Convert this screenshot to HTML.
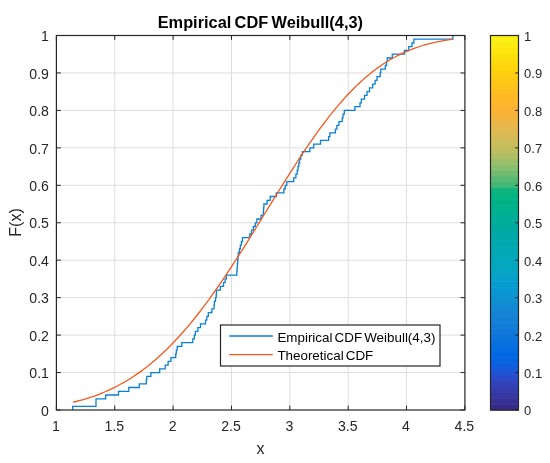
<!DOCTYPE html>
<html><head><meta charset="utf-8"><title>Empirical CDF Weibull(4,3)</title>
<style>
html,body{margin:0;padding:0;background:#fff;}
body{width:550px;height:463px;overflow:hidden;}
svg{display:block;font-family:"Liberation Sans",sans-serif;}
.tk{font-size:14.1px;fill:#262626;}
.lb{font-size:16.1px;fill:#262626;}
.tt{font-size:16.35px;font-weight:bold;fill:#000;word-spacing:-1.2px;}
.cbl{font-size:13px;}
.lg{font-size:13.4px;fill:#000;word-spacing:-1.6px;}
</style></head>
<body>
<svg width="550" height="463" viewBox="0 0 550 463">
<rect x="0" y="0" width="550" height="463" fill="#ffffff"/>
<g stroke="#dedede" stroke-width="1" fill="none">
<line x1="114.76" y1="410.0" x2="114.76" y2="35.5"/>
<line x1="173.11" y1="410.0" x2="173.11" y2="35.5"/>
<line x1="231.47" y1="410.0" x2="231.47" y2="35.5"/>
<line x1="289.83" y1="410.0" x2="289.83" y2="35.5"/>
<line x1="348.19" y1="410.0" x2="348.19" y2="35.5"/>
<line x1="406.54" y1="410.0" x2="406.54" y2="35.5"/>
<line x1="56.4" y1="372.55" x2="464.9" y2="372.55"/>
<line x1="56.4" y1="335.10" x2="464.9" y2="335.10"/>
<line x1="56.4" y1="297.65" x2="464.9" y2="297.65"/>
<line x1="56.4" y1="260.20" x2="464.9" y2="260.20"/>
<line x1="56.4" y1="222.75" x2="464.9" y2="222.75"/>
<line x1="56.4" y1="185.30" x2="464.9" y2="185.30"/>
<line x1="56.4" y1="147.85" x2="464.9" y2="147.85"/>
<line x1="56.4" y1="110.40" x2="464.9" y2="110.40"/>
<line x1="56.4" y1="72.95" x2="464.9" y2="72.95"/>
</g>
<g stroke="#262626" stroke-width="1" fill="none">
<line x1="56.40" y1="410.0" x2="56.40" y2="405.6"/>
<line x1="56.40" y1="35.5" x2="56.40" y2="39.9"/>
<line x1="114.76" y1="410.0" x2="114.76" y2="405.6"/>
<line x1="114.76" y1="35.5" x2="114.76" y2="39.9"/>
<line x1="173.11" y1="410.0" x2="173.11" y2="405.6"/>
<line x1="173.11" y1="35.5" x2="173.11" y2="39.9"/>
<line x1="231.47" y1="410.0" x2="231.47" y2="405.6"/>
<line x1="231.47" y1="35.5" x2="231.47" y2="39.9"/>
<line x1="289.83" y1="410.0" x2="289.83" y2="405.6"/>
<line x1="289.83" y1="35.5" x2="289.83" y2="39.9"/>
<line x1="348.19" y1="410.0" x2="348.19" y2="405.6"/>
<line x1="348.19" y1="35.5" x2="348.19" y2="39.9"/>
<line x1="406.54" y1="410.0" x2="406.54" y2="405.6"/>
<line x1="406.54" y1="35.5" x2="406.54" y2="39.9"/>
<line x1="464.90" y1="410.0" x2="464.90" y2="405.6"/>
<line x1="464.90" y1="35.5" x2="464.90" y2="39.9"/>
<line x1="56.4" y1="410.00" x2="60.8" y2="410.00"/>
<line x1="464.9" y1="410.00" x2="460.5" y2="410.00"/>
<line x1="56.4" y1="372.55" x2="60.8" y2="372.55"/>
<line x1="464.9" y1="372.55" x2="460.5" y2="372.55"/>
<line x1="56.4" y1="335.10" x2="60.8" y2="335.10"/>
<line x1="464.9" y1="335.10" x2="460.5" y2="335.10"/>
<line x1="56.4" y1="297.65" x2="60.8" y2="297.65"/>
<line x1="464.9" y1="297.65" x2="460.5" y2="297.65"/>
<line x1="56.4" y1="260.20" x2="60.8" y2="260.20"/>
<line x1="464.9" y1="260.20" x2="460.5" y2="260.20"/>
<line x1="56.4" y1="222.75" x2="60.8" y2="222.75"/>
<line x1="464.9" y1="222.75" x2="460.5" y2="222.75"/>
<line x1="56.4" y1="185.30" x2="60.8" y2="185.30"/>
<line x1="464.9" y1="185.30" x2="460.5" y2="185.30"/>
<line x1="56.4" y1="147.85" x2="60.8" y2="147.85"/>
<line x1="464.9" y1="147.85" x2="460.5" y2="147.85"/>
<line x1="56.4" y1="110.40" x2="60.8" y2="110.40"/>
<line x1="464.9" y1="110.40" x2="460.5" y2="110.40"/>
<line x1="56.4" y1="72.95" x2="60.8" y2="72.95"/>
<line x1="464.9" y1="72.95" x2="460.5" y2="72.95"/>
<line x1="56.4" y1="35.50" x2="60.8" y2="35.50"/>
<line x1="464.9" y1="35.50" x2="460.5" y2="35.50"/>
</g>
<polyline points="72.7,410.0 72.7,410.0 72.7,406.3 96.0,406.3 96.0,402.5 96.0,402.5 96.0,398.8 105.7,398.8 105.7,395.0 118.5,395.0 118.5,391.3 128.8,391.3 128.8,387.5 139.3,387.5 139.3,383.8 146.3,383.8 146.3,380.0 146.8,380.0 146.8,376.3 150.9,376.3 150.9,372.6 159.7,372.6 159.7,368.8 165.2,368.8 165.2,365.1 168.1,365.1 168.1,361.3 170.9,361.3 170.9,357.6 175.7,357.6 175.7,353.8 176.3,353.8 176.3,350.1 177.2,350.1 177.2,346.3 181.8,346.3 181.8,342.6 192.8,342.6 192.8,338.8 194.3,338.8 194.3,335.1 195.4,335.1 195.4,331.4 197.9,331.4 197.9,327.6 200.5,327.6 200.5,323.9 205.5,323.9 205.5,320.1 206.8,320.1 206.8,316.4 208.3,316.4 208.3,312.6 211.9,312.6 211.9,308.9 214.0,308.9 214.0,305.1 214.4,305.1 214.4,301.4 215.5,301.4 215.5,297.6 216.2,297.6 216.2,293.9 216.5,293.9 216.5,290.2 220.3,290.2 220.3,286.4 223.5,286.4 223.5,282.7 225.1,282.7 225.1,278.9 226.4,278.9 226.4,275.2 236.8,275.2 236.8,271.4 237.1,271.4 237.1,267.7 237.4,267.7 237.4,263.9 237.7,263.9 237.7,260.2 238.0,260.2 238.0,256.5 238.3,256.5 238.3,252.7 239.4,252.7 239.4,249.0 240.3,249.0 240.3,245.2 241.4,245.2 241.4,241.5 242.5,241.5 242.5,237.7 249.8,237.7 249.8,234.0 251.5,234.0 251.5,230.2 253.4,230.2 253.4,226.5 255.3,226.5 255.3,222.8 256.9,222.8 256.9,219.0 261.0,219.0 261.0,215.3 263.3,215.3 263.3,211.5 263.6,211.5 263.6,207.8 263.9,207.8 263.9,204.0 267.1,204.0 267.1,200.3 270.2,200.3 270.2,196.5 276.3,196.5 276.3,192.8 283.9,192.8 283.9,189.0 285.2,189.0 285.2,185.3 286.8,185.3 286.8,181.6 293.7,181.6 293.7,177.8 295.9,177.8 295.9,174.1 297.2,174.1 297.2,170.3 298.0,170.3 298.0,166.6 298.8,166.6 298.8,162.8 299.6,162.8 299.6,159.1 300.8,159.1 300.8,155.3 302.3,155.3 302.3,151.6 309.9,151.6 309.9,147.9 313.7,147.9 313.7,144.1 320.5,144.1 320.5,140.4 328.6,140.4 328.6,136.6 329.9,136.6 329.9,132.9 335.4,132.9 335.4,129.1 336.9,129.1 336.9,125.4 339.0,125.4 339.0,121.6 342.2,121.6 342.2,117.9 343.0,117.9 343.0,114.1 344.3,114.1 344.3,110.4 354.9,110.4 354.9,106.7 360.0,106.7 360.0,102.9 361.3,102.9 361.3,99.2 364.5,99.2 364.5,95.4 367.0,95.4 367.0,91.7 369.5,91.7 369.5,87.9 372.7,87.9 372.7,84.2 375.1,84.2 375.1,80.4 377.0,80.4 377.0,76.7 380.2,76.7 380.2,72.9 380.8,72.9 380.8,69.2 385.3,69.2 385.3,65.5 386.5,65.5 386.5,61.7 387.2,61.7 387.2,58.0 392.3,58.0 392.3,54.2 404.4,54.2 404.4,50.5 408.8,50.5 408.8,46.7 412.0,46.7 412.0,43.0 413.9,43.0 413.9,39.2 452.9,39.2 452.9,35.5" fill="none" stroke="#0a80d2" stroke-width="1.3" stroke-linejoin="miter"/>
<polyline points="72.9,402.2 76.1,401.5 79.2,400.7 82.4,399.8 85.6,398.9 88.7,397.9 91.9,396.9 95.1,395.8 98.2,394.6 101.4,393.3 104.6,392.0 107.7,390.6 110.9,389.2 114.1,387.7 117.2,386.0 120.4,384.3 123.6,382.6 126.7,380.7 129.9,378.8 133.1,376.7 136.2,374.6 139.4,372.4 142.6,370.1 145.7,367.7 148.9,365.2 152.1,362.6 155.2,359.9 158.4,357.1 161.6,354.2 164.7,351.2 167.9,348.2 171.1,345.0 174.2,341.7 177.4,338.3 180.6,334.8 183.7,331.3 186.9,327.6 190.1,323.8 193.2,320.0 196.4,316.0 199.6,312.0 202.7,307.8 205.9,303.6 209.1,299.3 212.2,294.9 215.4,290.5 218.6,285.9 221.7,281.3 224.9,276.6 228.1,271.9 231.2,267.1 234.4,262.2 237.6,257.3 240.7,252.3 243.9,247.3 247.1,242.3 250.2,237.2 253.4,232.1 256.6,227.0 259.7,221.8 262.9,216.7 266.1,211.5 269.2,206.4 272.4,201.2 275.6,196.1 278.7,191.0 281.9,185.9 285.1,180.8 288.2,175.8 291.4,170.8 294.6,165.9 297.7,161.0 300.9,156.2 304.1,151.4 307.2,146.7 310.4,142.1 313.6,137.6 316.7,133.1 319.9,128.7 323.1,124.5 326.2,120.3 329.4,116.2 332.6,112.2 335.7,108.4 338.9,104.6 342.1,101.0 345.2,97.4 348.4,94.0 351.6,90.7 354.7,87.5 357.9,84.4 361.1,81.5 364.2,78.6 367.4,75.9 370.6,73.3 373.7,70.8 376.9,68.4 380.1,66.2 383.2,64.0 386.4,62.0 389.6,60.0 392.7,58.2 395.9,56.5 399.1,54.9 402.2,53.3 405.4,51.9 408.6,50.5 411.7,49.3 414.9,48.1 418.1,47.0 421.2,46.0 424.4,45.0 427.6,44.1 430.7,43.3 433.9,42.6 437.1,41.9 440.2,41.3 443.4,40.7 446.6,40.1 449.7,39.6 452.9,39.2" fill="none" stroke="#f25a1e" stroke-width="1.3" stroke-linejoin="round"/>
<rect x="56.4" y="35.5" width="408.5" height="374.5" fill="none" stroke="#262626" stroke-width="1.2"/>
<g>
<rect x="490.5" y="404.15" width="28.0" height="6.45" fill="rgb(53,42,135)"/>
<rect x="490.5" y="398.30" width="28.0" height="6.45" fill="rgb(54,48,147)"/>
<rect x="490.5" y="392.45" width="28.0" height="6.45" fill="rgb(54,55,160)"/>
<rect x="490.5" y="386.59" width="28.0" height="6.45" fill="rgb(53,61,173)"/>
<rect x="490.5" y="380.74" width="28.0" height="6.45" fill="rgb(50,67,186)"/>
<rect x="490.5" y="374.89" width="28.0" height="6.45" fill="rgb(44,74,199)"/>
<rect x="490.5" y="369.04" width="28.0" height="6.45" fill="rgb(32,83,212)"/>
<rect x="490.5" y="363.19" width="28.0" height="6.45" fill="rgb(15,92,221)"/>
<rect x="490.5" y="357.34" width="28.0" height="6.45" fill="rgb(3,99,225)"/>
<rect x="490.5" y="351.48" width="28.0" height="6.45" fill="rgb(2,104,225)"/>
<rect x="490.5" y="345.63" width="28.0" height="6.45" fill="rgb(4,109,224)"/>
<rect x="490.5" y="339.78" width="28.0" height="6.45" fill="rgb(8,113,222)"/>
<rect x="490.5" y="333.93" width="28.0" height="6.45" fill="rgb(13,117,220)"/>
<rect x="490.5" y="328.08" width="28.0" height="6.45" fill="rgb(16,121,218)"/>
<rect x="490.5" y="322.23" width="28.0" height="6.45" fill="rgb(18,125,216)"/>
<rect x="490.5" y="316.38" width="28.0" height="6.45" fill="rgb(20,129,214)"/>
<rect x="490.5" y="310.52" width="28.0" height="6.45" fill="rgb(20,133,212)"/>
<rect x="490.5" y="304.67" width="28.0" height="6.45" fill="rgb(19,137,211)"/>
<rect x="490.5" y="298.82" width="28.0" height="6.45" fill="rgb(16,142,210)"/>
<rect x="490.5" y="292.97" width="28.0" height="6.45" fill="rgb(12,147,210)"/>
<rect x="490.5" y="287.12" width="28.0" height="6.45" fill="rgb(9,152,209)"/>
<rect x="490.5" y="281.27" width="28.0" height="6.45" fill="rgb(7,156,207)"/>
<rect x="490.5" y="275.41" width="28.0" height="6.45" fill="rgb(6,160,205)"/>
<rect x="490.5" y="269.56" width="28.0" height="6.45" fill="rgb(6,164,199)"/>
<rect x="490.5" y="263.71" width="28.0" height="6.45" fill="rgb(5,167,192)"/>
<rect x="490.5" y="257.86" width="28.0" height="6.45" fill="rgb(4,168,188)"/>
<rect x="490.5" y="252.01" width="28.0" height="6.45" fill="rgb(3,168,184)"/>
<rect x="490.5" y="246.16" width="28.0" height="6.45" fill="rgb(2,168,178)"/>
<rect x="490.5" y="240.30" width="28.0" height="6.45" fill="rgb(0,168,174)"/>
<rect x="490.5" y="234.45" width="28.0" height="6.45" fill="rgb(0,169,168)"/>
<rect x="490.5" y="228.60" width="28.0" height="6.45" fill="rgb(0,170,163)"/>
<rect x="490.5" y="222.75" width="28.0" height="6.45" fill="rgb(0,171,158)"/>
<rect x="490.5" y="216.90" width="28.0" height="6.45" fill="rgb(0,173,152)"/>
<rect x="490.5" y="211.05" width="28.0" height="6.45" fill="rgb(0,175,147)"/>
<rect x="490.5" y="205.20" width="28.0" height="6.45" fill="rgb(0,177,142)"/>
<rect x="490.5" y="199.34" width="28.0" height="6.45" fill="rgb(1,178,136)"/>
<rect x="490.5" y="193.49" width="28.0" height="6.45" fill="rgb(6,179,131)"/>
<rect x="490.5" y="187.64" width="28.0" height="6.45" fill="rgb(13,180,125)"/>
<rect x="490.5" y="181.79" width="28.0" height="6.45" fill="rgb(63,183,118)"/>
<rect x="490.5" y="175.94" width="28.0" height="6.45" fill="rgb(88,185,115)"/>
<rect x="490.5" y="170.09" width="28.0" height="6.45" fill="rgb(112,187,113)"/>
<rect x="490.5" y="164.23" width="28.0" height="6.45" fill="rgb(137,190,110)"/>
<rect x="490.5" y="158.38" width="28.0" height="6.45" fill="rgb(155,190,106)"/>
<rect x="490.5" y="152.53" width="28.0" height="6.45" fill="rgb(173,190,101)"/>
<rect x="490.5" y="146.68" width="28.0" height="6.45" fill="rgb(190,190,96)"/>
<rect x="490.5" y="140.83" width="28.0" height="6.45" fill="rgb(202,189,92)"/>
<rect x="490.5" y="134.98" width="28.0" height="6.45" fill="rgb(211,187,87)"/>
<rect x="490.5" y="129.12" width="28.0" height="6.45" fill="rgb(221,186,82)"/>
<rect x="490.5" y="123.27" width="28.0" height="6.45" fill="rgb(230,184,76)"/>
<rect x="490.5" y="117.42" width="28.0" height="6.45" fill="rgb(239,181,67)"/>
<rect x="490.5" y="111.57" width="28.0" height="6.45" fill="rgb(247,178,58)"/>
<rect x="490.5" y="105.72" width="28.0" height="6.45" fill="rgb(253,177,50)"/>
<rect x="490.5" y="99.87" width="28.0" height="6.45" fill="rgb(254,182,44)"/>
<rect x="490.5" y="94.02" width="28.0" height="6.45" fill="rgb(254,186,38)"/>
<rect x="490.5" y="88.16" width="28.0" height="6.45" fill="rgb(255,190,31)"/>
<rect x="490.5" y="82.31" width="28.0" height="6.45" fill="rgb(255,196,26)"/>
<rect x="490.5" y="76.46" width="28.0" height="6.45" fill="rgb(255,200,20)"/>
<rect x="490.5" y="70.61" width="28.0" height="6.45" fill="rgb(255,206,15)"/>
<rect x="490.5" y="64.76" width="28.0" height="6.45" fill="rgb(254,212,13)"/>
<rect x="490.5" y="58.91" width="28.0" height="6.45" fill="rgb(253,218,13)"/>
<rect x="490.5" y="53.05" width="28.0" height="6.45" fill="rgb(252,224,12)"/>
<rect x="490.5" y="47.20" width="28.0" height="6.45" fill="rgb(252,230,14)"/>
<rect x="490.5" y="41.35" width="28.0" height="6.45" fill="rgb(251,235,16)"/>
<rect x="490.5" y="35.50" width="28.0" height="6.45" fill="rgb(250,240,19)"/>
</g>
<g stroke="#262626" stroke-width="1" fill="none">
<line x1="518.5" y1="410.00" x2="515.2" y2="410.00"/>
<line x1="518.5" y1="372.55" x2="515.2" y2="372.55"/>
<line x1="518.5" y1="335.10" x2="515.2" y2="335.10"/>
<line x1="518.5" y1="297.65" x2="515.2" y2="297.65"/>
<line x1="518.5" y1="260.20" x2="515.2" y2="260.20"/>
<line x1="518.5" y1="222.75" x2="515.2" y2="222.75"/>
<line x1="518.5" y1="185.30" x2="515.2" y2="185.30"/>
<line x1="518.5" y1="147.85" x2="515.2" y2="147.85"/>
<line x1="518.5" y1="110.40" x2="515.2" y2="110.40"/>
<line x1="518.5" y1="72.95" x2="515.2" y2="72.95"/>
<line x1="518.5" y1="35.50" x2="515.2" y2="35.50"/>
</g>
<rect x="490.5" y="35.5" width="28.0" height="374.5" fill="none" stroke="#262626" stroke-width="1.2"/>
<g class="tk">
<text x="55.90" y="430.6" text-anchor="middle">1</text>
<text x="114.26" y="430.6" text-anchor="middle">1.5</text>
<text x="172.61" y="430.6" text-anchor="middle">2</text>
<text x="230.97" y="430.6" text-anchor="middle">2.5</text>
<text x="289.33" y="430.6" text-anchor="middle">3</text>
<text x="347.69" y="430.6" text-anchor="middle">3.5</text>
<text x="406.04" y="430.6" text-anchor="middle">4</text>
<text x="464.40" y="430.6" text-anchor="middle">4.5</text>
<text x="48.9" y="415.70" text-anchor="end">0</text>
<text x="48.9" y="378.25" text-anchor="end">0.1</text>
<text x="48.9" y="340.80" text-anchor="end">0.2</text>
<text x="48.9" y="303.35" text-anchor="end">0.3</text>
<text x="48.9" y="265.90" text-anchor="end">0.4</text>
<text x="48.9" y="228.45" text-anchor="end">0.5</text>
<text x="48.9" y="191.00" text-anchor="end">0.6</text>
<text x="48.9" y="153.55" text-anchor="end">0.7</text>
<text x="48.9" y="116.10" text-anchor="end">0.8</text>
<text x="48.9" y="78.65" text-anchor="end">0.9</text>
<text x="48.9" y="41.20" text-anchor="end">1</text>
<text class="cbl" x="524.1" y="415.40">0</text>
<text class="cbl" x="524.1" y="377.95">0.1</text>
<text class="cbl" x="524.1" y="340.50">0.2</text>
<text class="cbl" x="524.1" y="303.05">0.3</text>
<text class="cbl" x="524.1" y="265.60">0.4</text>
<text class="cbl" x="524.1" y="228.15">0.5</text>
<text class="cbl" x="524.1" y="190.70">0.6</text>
<text class="cbl" x="524.1" y="153.25">0.7</text>
<text class="cbl" x="524.1" y="115.80">0.8</text>
<text class="cbl" x="524.1" y="78.35">0.9</text>
<text class="cbl" x="524.1" y="40.90">1</text>
</g>
<text class="tt" x="260.35" y="27.6" text-anchor="middle">Empirical CDF Weibull(4,3)</text>
<text class="lb" x="260.5" y="453.7" text-anchor="middle">x</text>
<text class="lb" transform="translate(20.5,222.5) rotate(-90)" text-anchor="middle">F(x)</text>
<g>
<rect x="220.5" y="325" width="219.5" height="41" fill="#ffffff" stroke="#262626" stroke-width="1.2"/>
<line x1="229.2" y1="336" x2="272.8" y2="336" stroke="#0a80d2" stroke-width="1.3"/>
<line x1="229.2" y1="354.6" x2="272.8" y2="354.6" stroke="#f25a1e" stroke-width="1.3"/>
<text class="lg" x="277.4" y="341.8">Empirical CDF Weibull(4,3)</text>
<text class="lg" x="277.4" y="360.4">Theoretical CDF</text>
</g>
</svg>
</body></html>
